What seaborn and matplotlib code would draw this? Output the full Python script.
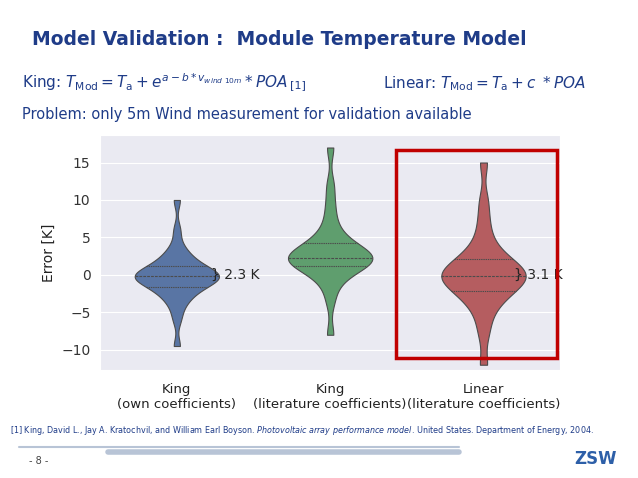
import numpy as np
import pandas as pd
import matplotlib
matplotlib.use("Agg")
import matplotlib.pyplot as plt
import seaborn as sns
from matplotlib.patches import Rectangle

# hand-read samples approximating the violin shapes
king_own = [-9.5, -6, -4.5, -3.5, -3, -2.5, -2, -1.8, -1.5, -1.2, -1, -0.8, -0.6, -0.4,
            -0.3, -0.2, -0.1, 0, 0.1, 0.3, 0.5, 0.7, 1, 1.3, 1.6, 2, 2.5, 3, 4, 6, 10]
king_lit = [-8, -3.5, -1.5, -0.5, 0.2, 0.7, 1, 1.3, 1.6, 1.8, 2, 2.1, 2.2, 2.3, 2.5, 2.7,
            3, 3.3, 3.6, 4, 4.5, 5, 6, 7.5, 9.5, 12, 17]
linear = [-12, -8, -6, -4.5, -3.5, -3, -2.5, -2, -1.6, -1.2, -0.9, -0.6, -0.3, -0.2,
          0, 0.2, 0.5, 0.8, 1.1, 1.5, 2, 2.5, 3, 4, 5.5, 7.5, 10, 15]
groups = ["King\n(own coefficients)", "King\n(literature coefficients)",
          "Linear\n(literature coefficients)"]
spreads = ["2.3 K", "3.1 K"]
colors = ["#4C72B0", "#55A868", "#C44E52"]

df = pd.DataFrame({
    "group": [groups[0]] * len(king_own) + [groups[1]] * len(king_lit) + [groups[2]] * len(linear),
    "err": king_own + king_lit + linear,
})

sns.set_style("darkgrid", {"axes.facecolor": "#EAEAF2"})
fig = plt.figure(figsize=(6.38, 4.78), dpi=100)
ax = fig.add_axes([0.157, 0.226, 0.721, 0.492])
sns.violinplot(data=df, x="group", y="err", hue="group", palette=colors,
               cut=0, inner="quart", linewidth=0.8, bw_method=0.3, width=0.55, ax=ax,
               legend=False, saturation=0.75)
ax.set_ylim(-12.7, 18.7)
ax.set_xlim(-0.5, 2.5)
ax.set_yticks([-10, -5, 0, 5, 10, 15])
ax.set_yticklabels(["\u221210", "\u22125", "0", "5", "10", "15"])
ax.tick_params(axis="y", labelsize=10, colors="#333333")
ax.tick_params(axis="x", labelsize=9.5, colors="#222222", pad=6)
ax.set_xlabel("")
ax.set_ylabel("Error [K]", fontsize=10, color="#222222")

ax.text(0.22, 0, "} " + spreads[0], fontsize=10, va="center")
ax.text(2.2, 0, "} " + spreads[1], fontsize=10, va="center")

# red highlight box
fig.patches.append(Rectangle((396 / 638, 1 - 358 / 478), 161 / 638, 208 / 478,
                             transform=fig.transFigure, fill=False,
                             edgecolor="#C00000", linewidth=2.5))

blue = "#1F3C88"
fig.text(0.05, 0.905, "Model Validation :  Module Temperature Model", fontsize=13.5,
         fontweight="bold", color=blue)
fig.text(0.035, 0.815, r"King: $T_{\mathrm{Mod}}=T_{\mathrm{a}}+e^{a-b*v_{wind\ 10m}}*POA$",
         fontsize=11, color=blue)
fig.text(0.455, 0.815, "[1]", fontsize=8, color=blue)
fig.text(0.6, 0.815, r"Linear: $T_{\mathrm{Mod}}=T_{\mathrm{a}}+c\ *POA$", fontsize=11, color=blue)
fig.text(0.035, 0.75, "Problem: only 5m Wind measurement for validation available",
         fontsize=10.5, color=blue)
fig.text(0.015, 0.095, "[1] King, David L., Jay A. Kratochvil, and William Earl Boyson. "
         "$\\it{Photovoltaic\\ array\\ performance\\ model}$. United States. Department of Energy, 2004.",
         fontsize=5.8, color=blue)
fig.text(0.045, 0.03, "- 8 -", fontsize=7, color="#444444")
fig.add_artist(plt.Line2D([0.03, 0.72], [0.065, 0.065], color="#B8C4D6", lw=1.5))
fig.add_artist(plt.Line2D([0.17, 0.72], [0.055, 0.055], color="#B8C4D6", lw=4))
fig.text(0.9, 0.03, "ZSW", fontsize=12, fontweight="bold", color="#2D5FA8")

fig.savefig("out.png", dpi=100)
